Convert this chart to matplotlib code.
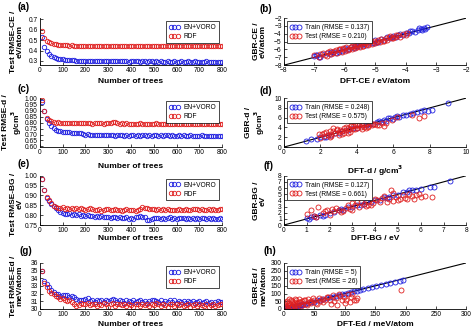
import numpy as np
import matplotlib
matplotlib.use("Agg")
import matplotlib.pyplot as plt

plt.rcParams['font.family'] = ['Liberation Sans', 'DejaVu Sans']

# number of trees in the forest
trees = list(range(10, 810, 10))

# test RMSE vs number of trees: EN+VORO features vs RDF features
ce_env = [0.530, 0.435, 0.395, 0.370, 0.352, 0.340, 0.330, 0.322, 0.318, 0.315,
          0.312, 0.310, 0.309, 0.306, 0.305, 0.304, 0.303, 0.302, 0.303, 0.301,
          0.300, 0.301, 0.299, 0.300, 0.298, 0.299, 0.297, 0.298, 0.296, 0.297,
          0.298, 0.296, 0.297, 0.295, 0.296, 0.297, 0.295, 0.296, 0.294, 0.296,
          0.297, 0.295, 0.296, 0.294, 0.295, 0.297, 0.294, 0.295, 0.296, 0.293,
          0.295, 0.294, 0.296, 0.293, 0.294, 0.295, 0.293, 0.294, 0.296, 0.293,
          0.294, 0.295, 0.293, 0.294, 0.296, 0.294, 0.293, 0.295, 0.294, 0.292,
          0.294, 0.293, 0.295, 0.293, 0.292, 0.294, 0.293, 0.292, 0.294, 0.293]
ce_rdf = [0.590, 0.520, 0.495, 0.480, 0.470, 0.463, 0.458, 0.455, 0.452, 0.450,
          0.449, 0.448, 0.447, 0.448, 0.446, 0.447, 0.446, 0.445, 0.447, 0.445,
          0.444, 0.446, 0.444, 0.445, 0.443, 0.445, 0.444, 0.443, 0.445, 0.442,
          0.444, 0.443, 0.445, 0.442, 0.444, 0.443, 0.442, 0.444, 0.443, 0.441,
          0.443, 0.444, 0.442, 0.443, 0.441, 0.443, 0.442, 0.444, 0.442, 0.443,
          0.441, 0.443, 0.442, 0.444, 0.442, 0.441, 0.443, 0.442, 0.441, 0.443,
          0.442, 0.444, 0.441, 0.442, 0.443, 0.441, 0.442, 0.443, 0.441, 0.442,
          0.443, 0.441, 0.442, 0.440, 0.442, 0.441, 0.443, 0.441, 0.442, 0.441]

d_env = [0.975, 0.895, 0.830, 0.800, 0.775, 0.755, 0.740, 0.732, 0.728, 0.725,
         0.722, 0.720, 0.718, 0.715, 0.712, 0.710, 0.710, 0.712, 0.705, 0.700,
         0.702, 0.698, 0.700, 0.696, 0.699, 0.695, 0.698, 0.694, 0.697, 0.695,
         0.693, 0.696, 0.690, 0.694, 0.692, 0.695, 0.691, 0.693, 0.690, 0.696,
         0.694, 0.691, 0.693, 0.690, 0.692, 0.694, 0.690, 0.692, 0.689, 0.693,
         0.695, 0.691, 0.693, 0.689, 0.692, 0.694, 0.690, 0.692, 0.688, 0.691,
         0.693, 0.690, 0.692, 0.688, 0.691, 0.693, 0.689, 0.691, 0.688, 0.690,
         0.692, 0.689, 0.691, 0.688, 0.690, 0.689, 0.687, 0.690, 0.688, 0.687]
d_rdf = [0.985, 0.900, 0.840, 0.820, 0.812, 0.806, 0.800, 0.805, 0.798, 0.795,
         0.800, 0.796, 0.799, 0.794, 0.797, 0.795, 0.798, 0.793, 0.796, 0.799,
         0.794, 0.797, 0.792, 0.796, 0.798, 0.793, 0.795, 0.791, 0.796, 0.794,
         0.797, 0.803, 0.806, 0.796, 0.792, 0.795, 0.790, 0.793, 0.789, 0.792,
         0.788, 0.791, 0.789, 0.793, 0.788, 0.791, 0.789, 0.792, 0.787, 0.790,
         0.793, 0.789, 0.791, 0.788, 0.792, 0.789, 0.791, 0.787, 0.790, 0.792,
         0.788, 0.791, 0.786, 0.789, 0.792, 0.788, 0.790, 0.786, 0.789, 0.791,
         0.787, 0.789, 0.786, 0.790, 0.788, 0.786, 0.789, 0.787, 0.785, 0.788]

bg_env = [0.985, 0.925, 0.885, 0.870, 0.855, 0.845, 0.835, 0.825, 0.815, 0.810,
          0.808, 0.805, 0.810, 0.803, 0.806, 0.800, 0.804, 0.798, 0.802, 0.795,
          0.799, 0.794, 0.797, 0.792, 0.796, 0.790, 0.794, 0.789, 0.793, 0.790,
          0.787, 0.792, 0.789, 0.786, 0.791, 0.788, 0.785, 0.790, 0.783, 0.786,
          0.781, 0.789, 0.792, 0.797, 0.793, 0.789, 0.777, 0.774, 0.782, 0.787,
          0.784, 0.788, 0.782, 0.786, 0.780, 0.785, 0.789, 0.783, 0.787, 0.781,
          0.786, 0.784, 0.788, 0.782, 0.785, 0.779, 0.787, 0.783, 0.786, 0.781,
          0.784, 0.788, 0.782, 0.785, 0.780, 0.786, 0.783, 0.781, 0.785, 0.782]
bg_rdf = [0.985, 0.925, 0.890, 0.875, 0.860, 0.845, 0.840, 0.838, 0.835, 0.840,
          0.832, 0.836, 0.830, 0.838, 0.833, 0.836, 0.831, 0.834, 0.829, 0.828,
          0.832, 0.835, 0.830, 0.826, 0.825, 0.829, 0.823, 0.827, 0.830, 0.832,
          0.828, 0.825, 0.829, 0.824, 0.827, 0.822, 0.826, 0.829, 0.824, 0.828,
          0.825, 0.823, 0.827, 0.829, 0.840, 0.838, 0.835, 0.833, 0.831, 0.830,
          0.828, 0.832, 0.827, 0.830, 0.826, 0.829, 0.824, 0.828, 0.825, 0.826,
          0.829, 0.824, 0.827, 0.831, 0.828, 0.826, 0.829, 0.832, 0.830, 0.827,
          0.831, 0.828, 0.826, 0.830, 0.827, 0.829, 0.825, 0.828, 0.830, 0.831]

ed_env = [35.0, 33.6, 33.2, 32.9, 32.5, 32.2, 32.0, 31.9, 31.7, 31.8,
          31.8, 31.8, 31.6, 31.7, 31.5, 31.3, 31.2, 31.2, 31.1, 31.3,
          31.4, 31.0, 31.1, 30.9, 31.2, 31.0, 31.1, 30.9, 31.2, 31.0,
          31.1, 31.3, 31.2, 30.9, 31.1, 31.0, 30.8, 31.1, 31.0, 30.9,
          31.1, 30.9, 31.0, 31.2, 30.9, 31.0, 30.8, 31.0, 31.2, 31.1,
          31.0, 30.9, 31.1, 30.8, 31.0, 30.9, 31.1, 30.9, 31.1, 30.8,
          31.0, 30.9, 31.0, 30.8, 31.0, 30.9, 31.0, 30.8, 30.9, 31.0,
          30.8, 30.9, 31.0, 30.8, 30.9, 30.7, 30.9, 31.0, 30.9, 30.9]
ed_rdf = [35.0, 33.4, 32.9, 32.4, 32.1, 31.9, 31.7, 31.6, 31.3, 31.4,
          31.2, 31.0, 31.1, 30.9, 30.7, 30.4, 30.5, 30.8, 30.6, 30.7,
          30.8, 30.5, 30.7, 30.6, 30.4, 30.7, 30.5, 30.8, 30.6, 30.3,
          30.6, 30.8, 30.4, 30.6, 30.7, 30.5, 30.6, 30.4, 30.7, 30.5,
          30.3, 30.6, 30.7, 30.4, 30.6, 30.5, 30.7, 30.4, 30.6, 30.5,
          30.8, 30.6, 30.4, 30.7, 30.5, 30.3, 30.6, 30.7, 30.4, 30.6,
          30.5, 30.7, 30.4, 30.5, 30.6, 30.3, 30.5, 30.7, 30.4, 30.6,
          30.5, 30.4, 30.6, 30.3, 30.5, 30.6, 30.4, 30.5, 30.7, 30.6]

# parity data: DFT value (x) vs GBR prediction (y)
ce_train_x = [-7.0, -6.9, -6.8, -6.75, -6.6, -6.5, -6.4, -6.3, -6.2, -6.1, -6.0, -5.9,
              -5.8, -5.7, -5.6, -5.5, -5.4, -5.3, -5.2, -5.1, -5.0, -4.9, -4.8, -4.7,
              -4.6, -4.5, -4.4, -4.3, -4.2, -4.1, -4.0, -3.9, -3.8, -3.7, -3.6, -3.5,
              -3.45, -3.4, -3.35, -3.3, -6.85, -6.45, -5.95, -5.45, -4.95, -4.45,
              -6.95, -6.2, -5.65, -5.05, -4.25, -3.85, -3.55]
ce_train_y = [-6.8, -6.75, -6.95, -6.6, -6.45, -6.6, -6.3, -6.4, -6.05, -6.2, -5.85, -6.0,
              -5.7, -5.85, -5.5, -5.6, -5.25, -5.45, -5.05, -5.2, -4.85, -5.0, -4.7, -4.8,
              -4.45, -4.6, -4.3, -4.4, -4.05, -4.2, -3.9, -3.85, -3.7, -3.75, -3.55, -3.4,
              -3.55, -3.2, -3.45, -3.1, -6.95, -6.35, -6.1, -5.3, -5.05, -4.35,
              -6.7, -6.3, -5.6, -5.15, -4.15, -3.65, -3.25]
ce_test_x = [-7.0, -6.85, -6.7, -6.6, -6.5, -6.45, -6.4, -6.3, -6.25, -6.2, -6.1, -6.05,
             -6.0, -5.95, -5.9, -5.8, -5.75, -5.7, -5.6, -5.55, -5.5, -5.45, -5.4, -5.3,
             -5.25, -5.2, -5.1, -5.05, -5.0, -4.9, -4.85, -4.8, -4.7, -4.65, -4.6, -4.5,
             -4.4, -4.3, -4.2, -4.1, -4.0, -3.95, -6.55, -6.15, -5.65, -5.35, -4.75, -4.45,
             -6.8, -6.35, -6.05, -5.85, -5.6, -5.4, -5.15, -4.95, -4.55, -4.25, -6.65,
             -5.25, -5.75, -4.35]
ce_test_y = [-6.65, -6.9, -6.45, -6.8, -6.25, -6.6, -6.5, -6.1, -6.45, -5.95, -6.3, -5.85,
             -6.15, -5.7, -6.05, -5.65, -5.95, -5.5, -5.75, -5.35, -5.65, -5.3, -5.55, -5.15,
             -5.45, -5.05, -5.3, -4.9, -5.15, -4.75, -5.05, -4.65, -4.9, -4.55, -4.75, -4.3,
             -4.6, -4.2, -4.4, -4.0, -4.15, -3.85, -6.35, -6.0, -5.85, -5.15, -4.95, -4.6,
             -6.55, -6.15, -5.95, -5.95, -5.45, -5.5, -4.95, -5.1, -4.45, -4.1, -6.7,
             -5.35, -5.55, -4.4]

d_train_x = [1.2, 1.5, 1.8, 2.0, 2.2, 2.4, 2.6, 2.8, 3.0, 3.2, 3.5, 3.8, 4.0, 4.3, 4.5,
             4.7, 4.9, 5.1, 5.3, 5.5, 5.6, 5.8, 6.0, 6.1, 6.3, 6.5, 6.7, 6.9, 7.1, 7.3,
             7.5, 7.7, 7.9, 8.1, 9.0, 5.2, 5.7, 6.2, 4.6, 2.3]
d_train_y = [1.2, 1.6, 1.7, 2.1, 2.1, 2.5, 2.5, 2.9, 2.9, 3.3, 3.4, 3.9, 3.9, 4.4, 4.4,
             4.8, 4.8, 5.2, 5.1, 5.6, 5.4, 5.9, 5.8, 6.2, 6.1, 6.5, 6.5, 6.8, 7.0, 7.1,
             7.3, 7.5, 7.4, 7.6, 8.9, 5.4, 5.9, 6.4, 4.7, 2.0]
d_test_x = [1.9, 2.0, 2.1, 2.2, 2.3, 2.4, 2.5, 2.6, 2.7, 2.8, 2.9, 3.0, 3.1, 3.2, 3.3,
            3.4, 3.5, 3.6, 3.7, 3.8, 3.9, 4.0, 4.1, 4.2, 4.3, 4.4, 4.5, 4.6, 4.7, 4.8,
            4.9, 5.0, 5.2, 5.4, 5.6, 5.9, 6.2, 7.0, 7.4, 7.7, 2.5, 3.0, 3.5, 4.0, 4.5, 3.8,
            2.2, 2.6, 2.9, 3.2, 3.4, 3.6, 3.9, 4.1, 4.3, 4.6, 2.7, 3.3, 3.7, 5.1, 5.5]
d_test_y = [2.6, 1.9, 2.7, 2.3, 3.0, 2.4, 3.2, 2.6, 3.3, 2.9, 3.6, 3.0, 3.5, 3.3, 3.8,
            3.4, 3.9, 3.6, 4.2, 3.7, 4.4, 3.9, 4.5, 4.0, 4.6, 4.1, 4.8, 4.3, 5.0, 4.4,
            4.7, 4.8, 4.4, 5.0, 4.9, 5.5, 6.1, 6.5, 5.9, 6.4, 2.0, 2.4, 2.9, 4.6, 3.9, 4.3,
            2.9, 2.2, 3.5, 2.6, 4.0, 3.1, 3.7, 4.6, 3.6, 4.0, 3.9, 2.8, 4.5, 4.5, 4.3]

bg_train_x = [1.0, 1.1, 1.2, 1.4, 1.6, 1.8, 2.0, 2.2, 2.4, 2.6, 2.8, 3.0, 3.2, 3.4, 3.6,
              3.8, 4.0, 4.2, 4.4, 4.6, 4.8, 5.0, 5.2, 5.4, 5.6, 5.8, 6.0, 6.4, 6.6, 7.3,
              1.3, 1.7, 2.5, 3.5, 4.5, 5.5]
bg_train_y = [1.1, 0.9, 1.3, 1.3, 1.6, 1.7, 2.0, 2.1, 2.4, 2.5, 2.9, 2.9, 3.3, 3.3, 3.7,
              3.7, 4.1, 4.1, 4.5, 4.5, 4.9, 4.9, 5.3, 5.3, 5.7, 5.7, 5.9, 6.1, 6.2, 7.2,
              1.5, 1.5, 2.6, 3.4, 4.4, 5.6]
bg_test_x = [1.0, 1.2, 1.3, 1.5, 1.7, 1.9, 2.0, 2.2, 2.3, 2.5, 2.7, 2.8, 3.0, 3.1, 3.3,
             3.4, 3.6, 3.7, 3.9, 4.0, 4.2, 4.3, 4.5, 4.6, 4.7, 4.9, 5.0, 5.2, 5.3, 5.5,
             5.6, 5.8, 6.0, 6.5, 1.4, 1.8, 2.4, 3.2, 3.8, 4.4, 4.8, 5.4,
             2.1, 2.6, 2.9, 3.5, 4.1, 4.8, 5.1, 5.7, 5.9, 6.2, 3.0, 3.7]
bg_test_y = [1.8, 2.4, 1.5, 2.9, 1.9, 2.5, 1.7, 2.3, 2.8, 2.1, 2.7, 3.2, 2.5, 3.3, 2.9,
             3.7, 3.1, 3.9, 3.6, 4.3, 3.7, 4.4, 3.8, 4.2, 5.7, 4.6, 4.1, 4.9, 4.4, 5.1,
             4.7, 4.9, 4.6, 4.5, 1.3, 2.2, 2.5, 3.8, 3.3, 4.7, 5.2, 4.3,
             2.6, 2.3, 2.6, 3.4, 4.1, 3.9, 4.3, 4.2, 5.0, 4.7, 3.5, 3.3]

ed_train_x = [0, 3, 6, 10, 14, 18, 22, 26, 30, 35, 40, 45, 50, 55, 60, 65, 70, 75, 80,
              85, 90, 95, 100, 105, 110, 115, 120, 125, 130, 138, 145, 152, 160, 168,
              175, 182, 190, 195, 1, 4, 8, 12, 16, 20, 24, 28, 32]
ed_train_y = [2, 5, 4, 10, 12, 18, 20, 25, 28, 35, 38, 46, 48, 55, 58, 66, 68, 76, 78,
              86, 88, 96, 98, 106, 108, 116, 118, 124, 128, 135, 142, 150, 158, 162,
              168, 176, 184, 190, 3, 6, 8, 14, 15, 20, 24, 28, 30]
ed_test_x = [0, 2, 4, 5, 7, 9, 10, 12, 14, 15, 17, 19, 20, 22, 24, 25, 28, 30, 32, 35,
             38, 40, 42, 45, 48, 50, 55, 58, 60, 65, 70, 75, 78, 80, 85, 88, 90, 95, 98,
             100, 105, 110, 115, 120, 192, 1, 3, 6, 8, 11, 13, 16, 18, 21, 23, 26, 33,
             36, 44, 52, 62, 68, 72, 83, 92, 102, 108, 112, 118]
ed_test_y = [8, 30, 15, 50, 5, 40, 22, 60, 10, 35, 48, 18, 55, 28, 42, 62, 20, 50, 35, 58,
             25, 65, 45, 38, 70, 55, 30, 72, 50, 45, 80, 60, 35, 90, 70, 25, 100, 55, 75,
             40, 95, 80, 60, 70, 125, 20, 45, 28, 62, 15, 50, 28, 65, 38, 12, 45, 60,
             30, 52, 40, 62, 55, 75, 50, 85, 60, 45, 95, 60]

BLUE = '#1f1fe0'
RED = '#e01f1f'

fig = plt.figure(figsize=(4.74, 3.29), dpi=100)

left_x, right_x, width = 0.084, 0.599, 0.385
rows = [(0.802, 0.143), (0.553, 0.149), (0.316, 0.150), (0.061, 0.140)]
# where the x label sits under each row (axes fraction)
xlabel_y = [-0.27, -0.33, -0.20, -0.27]
# vertical centre of the y label in each row (axes fraction)
ylabel_y = [0.5, 0.5, 0.42, 0.5]


def style(ax):
    for s in ['top', 'right']:
        ax.spines[s].set_visible(False)
    for s in ['left', 'bottom']:
        ax.spines[s].set_linewidth(0.6)
    ax.tick_params(direction='in', length=2, width=0.5, labelsize=4.8, pad=1.5)


def add_legend(ax, loc):
    leg = ax.legend(loc=loc, fontsize=4.8, numpoints=3, handlelength=1.6,
                    handletextpad=0.6, borderpad=0.4, labelspacing=0.3,
                    fancybox=False, edgecolor='black', framealpha=1)
    leg.get_frame().set_linewidth(0.5)


def trees_panel(ax, env, rdf, ylim, yticks, ylabel, ytfmt, row):
    ax.plot(trees, env, 'o', mfc='none', mec=BLUE, ms=3.2, mew=0.6, label='EN+VORO')
    ax.plot(trees, rdf, 'o', mfc='none', mec=RED, ms=3.2, mew=0.6, label='RDF')
    ax.set_xlim(0, 800)
    ax.set_ylim(*ylim)
    ax.set_xticks(range(0, 801, 100))
    ax.set_yticks(yticks)
    ax.set_yticklabels([ytfmt.format(v) for v in yticks])
    ax.set_xlabel('Number of trees', fontsize=6, fontweight='bold')
    ax.xaxis.set_label_coords(0.5, xlabel_y[row])
    ax.set_ylabel(ylabel, fontsize=6, fontweight='bold', linespacing=1.05)
    ax.yaxis.set_label_coords(-0.088, ylabel_y[row])
    style(ax)
    add_legend(ax, 'upper right')


def parity_panel(ax, tx, ty, sx, sy, lim, ticks, rmse, xlabel, ylabel, row):
    ax.plot([lim[0], lim[1]], [lim[0], lim[1]], color='black', lw=0.8, zorder=1)
    ax.plot(tx, ty, 'o', mfc='none', mec=BLUE, ms=3.6, mew=0.6,
            label='Train (RMSE = %s)' % rmse[0])
    ax.plot(sx, sy, 'o', mfc='none', mec=RED, ms=3.6, mew=0.6,
            label='Test (RMSE = %s)' % rmse[1])
    ax.set_xlim(*lim)
    ax.set_ylim(*lim)
    ax.set_xticks(ticks[0])
    ax.set_yticks(ticks[1])
    ax.set_xlabel(xlabel, fontsize=6, fontweight='bold')
    ax.xaxis.set_label_coords(0.5, xlabel_y[row])
    ax.set_ylabel(ylabel, fontsize=6, fontweight='bold', linespacing=1.05)
    ax.yaxis.set_label_coords(-0.093, 0.5)
    style(ax)
    add_legend(ax, 'upper left')


ax_a = fig.add_axes([left_x, rows[0][0], width, rows[0][1]])
trees_panel(ax_a, ce_env, ce_rdf, (0.26, 0.71), [0.3, 0.4, 0.5, 0.6, 0.7],
            'Test RMSE-CE /\neV/atom', '{:.1f}', 0)
ax_c = fig.add_axes([left_x, rows[1][0], width, rows[1][1]])
trees_panel(ax_c, d_env, d_rdf, (0.595, 1.005), [0.6 + 0.05 * i for i in range(9)],
            'Test RMSE-d /\ng/cm$^\\mathbf{3}$', '{:.2f}', 1)
ax_e = fig.add_axes([left_x, rows[2][0], width, rows[2][1]])
trees_panel(ax_e, bg_env, bg_rdf, (0.75, 1.0), [0.75 + 0.05 * i for i in range(6)],
            'Test RMSE-BG /\neV', '{:.2f}', 2)
ax_g = fig.add_axes([left_x, rows[3][0], width, rows[3][1]])
trees_panel(ax_g, ed_env, ed_rdf, (30, 36), list(range(30, 37)),
            'Test RMSE-Ed /\nmeV/atom', '{:d}', 3)

ax_b = fig.add_axes([right_x, rows[0][0], width, rows[0][1]])
parity_panel(ax_b, ce_train_x, ce_train_y, ce_test_x, ce_test_y, (-8, -2),
             (range(-8, -1), range(-8, -1)), ('0.137', '0.210'),
             'DFT-CE / eV/atom', 'GBR-CE /\neV/atom', 0)
ax_d = fig.add_axes([right_x, rows[1][0], width, rows[1][1]])
parity_panel(ax_d, d_train_x, d_train_y, d_test_x, d_test_y, (0, 10),
             (range(0, 11, 2), range(0, 11, 2)), ('0.248', '0.575'),
             'DFT-d / g/cm$^\\mathbf{3}$', 'GBR-d /\ng/cm$^\\mathbf{3}$', 1)
ax_f = fig.add_axes([right_x, rows[2][0], width, rows[2][1]])
parity_panel(ax_f, bg_train_x, bg_train_y, bg_test_x, bg_test_y, (0, 8),
             (range(0, 9), range(0, 9)), ('0.127', '0.661'),
             'DFT-BG / eV', 'GBR-BG /\neV', 2)
ax_h = fig.add_axes([right_x, rows[3][0], width, rows[3][1]])
parity_panel(ax_h, ed_train_x, ed_train_y, ed_test_x, ed_test_y, (0, 300),
             (range(0, 301, 50), range(0, 301, 50)), ('5', '26'),
             'DFT-Ed / meV/atom', 'GBR-Ed /\nmeV/atom', 3)

# panel letters
letters = [('(a)', 18, 7), ('(b)', 260, 9), ('(c)', 18, 89), ('(d)', 259, 91),
           ('(e)', 18, 164), ('(f)', 264, 166), ('(g)', 20, 251), ('(h)', 263, 251)]
for txt, px, py in letters:
    fig.text(px / 474, 1 - py / 329, txt, fontsize=7, fontweight='bold', va='center')

fig.savefig('out.png', dpi=100)
